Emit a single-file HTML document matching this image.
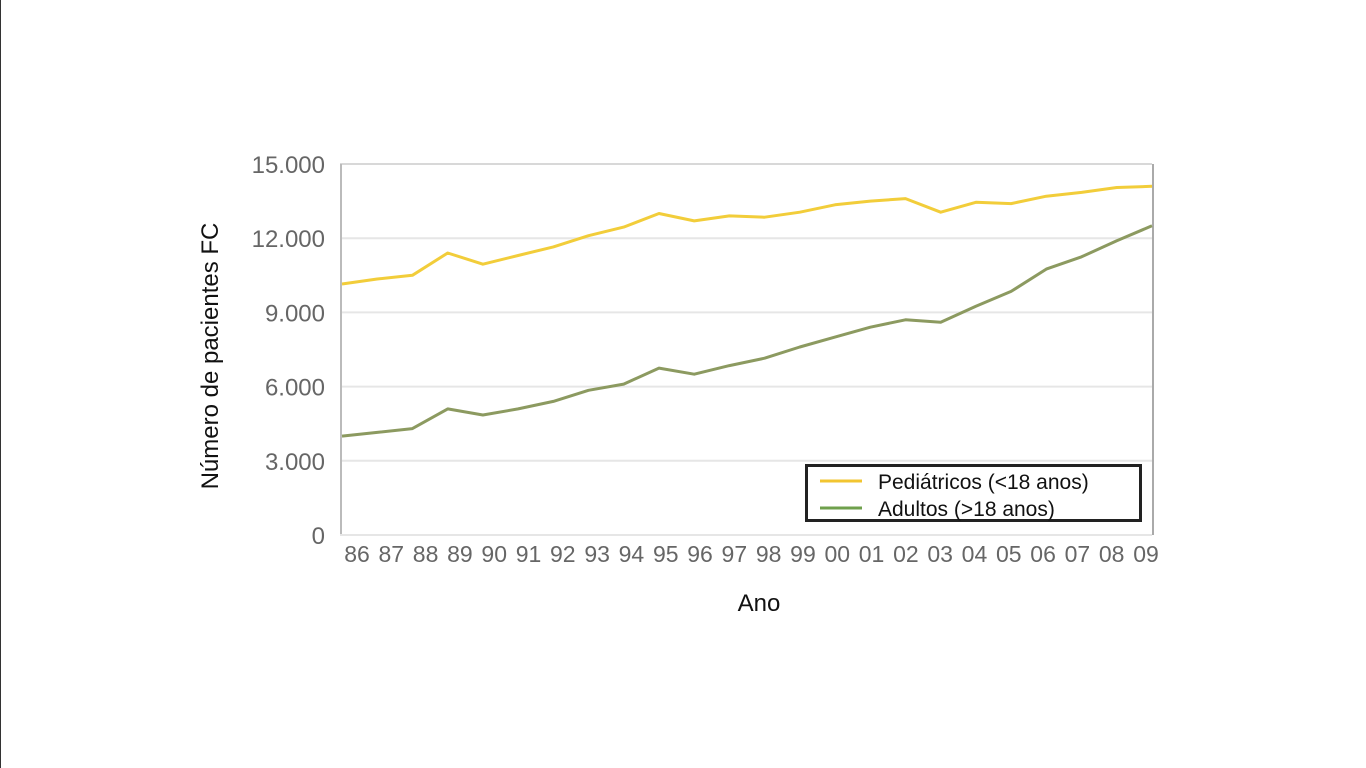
<!DOCTYPE html>
<html><head><meta charset="utf-8"><style>
html,body{margin:0;padding:0;background:#fff;}
svg{display:block;font-family:"Liberation Sans",sans-serif;}
</style></head><body>
<svg id="chart" width="1366" height="768" viewBox="0 0 1366 768" xmlns="http://www.w3.org/2000/svg">
<line x1="0.5" y1="0" x2="0.5" y2="768" stroke="#333" stroke-width="1"/>
<g id="grid"></g>
<g id="yticks"></g>
<g id="xticks"></g>
<g id="lines"></g>
<text x="218" y="356" transform="rotate(-90 218 356)" text-anchor="middle" font-size="24" fill="#111">Número de pacientes FC</text>
<text x="759" y="611" text-anchor="middle" font-size="24" fill="#111">Ano</text>
<g>
<rect x="806.5" y="465.5" width="334" height="55" fill="#fff" stroke="#222" stroke-width="3"/>
<line x1="820" y1="481" x2="862" y2="481" stroke="#f2c530" stroke-width="3"/>
<text x="878" y="489" font-size="21" fill="#111">Pediátricos (&lt;18 anos)</text>
<line x1="820" y1="508" x2="862" y2="508" stroke="#6fa04c" stroke-width="3"/>
<text x="878" y="516" font-size="21" fill="#111">Adultos (&gt;18 anos)</text>
</g>
</svg>
<script>
const years = ["86","87","88","89","90","91","92","93","94","95","96","97","98","99","00","01","02","03","04","05","06","07","08","09"];
const pediatric = [10150,10350,10500,11400,10950,11300,11650,12100,12450,13000,12700,12900,12850,13050,13350,13500,13600,13050,13450,13400,13700,13850,14050,14100];
const adults = [4000,4150,4300,5100,4850,5100,5400,5850,6100,6750,6500,6850,7150,7600,8000,8400,8700,8600,9250,9850,10750,11250,11900,12500];
const yTicks = [0,3000,6000,9000,12000,15000];
const yTickLabels = ["0","3.000","6.000","9.000","12.000","15.000"];
const NS="http://www.w3.org/2000/svg";
const X0=342,X1=1152,Y0=535,Y1=164;
function xScale(i){return X0+(X1-X0)*i/(years.length-1);}
function xLabel(i){return 357+(1146-357)*i/(years.length-1);}
function yScale(v){return Y0-(Y0-Y1)*v/15000;}
function mk(tag,attrs,parent){const e=document.createElementNS(NS,tag);for(const k in attrs)e.setAttribute(k,attrs[k]);parent.appendChild(e);return e;}
const grid=document.getElementById('grid'),yt=document.getElementById('yticks'),xt=document.getElementById('xticks'),ln=document.getElementById('lines');
yTicks.forEach((v,i)=>{
  const y=yScale(v);
  if(v>0){const g=mk('line',{x1:X0-2,x2:X1,y1:y,y2:y,stroke:i==yTicks.length-1?'#d8d8d8':'#e6e6e6','stroke-width':2},grid);
  
  }
  const t=mk('text',{x:325,y:y+9,'text-anchor':'end','font-size':24,fill:'#666'},yt);
  t.textContent=yTickLabels[i];
  
  
});
const ax=mk('line',{x1:X0-1,x2:X0-1,y1:Y1,y2:Y0,stroke:'#bbb','stroke-width':2},grid);


const rb=mk('line',{x1:X1+1,x2:X1+1,y1:Y1,y2:Y0,stroke:'#aaa','stroke-width':2},grid);


const bx=mk('line',{x1:X0-2,x2:X1,y1:Y0,y2:Y0,stroke:'#e6e6e6','stroke-width':2},grid);


years.forEach((yr,i)=>{
  const t=mk('text',{x:xLabel(i),y:562,'text-anchor':'middle','font-size':23,fill:'#666'},xt);
  t.textContent=yr;
  
  
});
function drawLine(vals,color,name){
  const pts=vals.map((v,i)=>xScale(i).toFixed(1)+','+yScale(v).toFixed(1)).join(' ');
  const p=mk('polyline',{points:pts,fill:'none',stroke:color,'stroke-width':3,'stroke-linejoin':'round'},ln);
  
  
}
drawLine(pediatric,'#f2cd3a','line-pediatric');
drawLine(adults,'#8c9a60','line-adults');
</script>
</body></html>
